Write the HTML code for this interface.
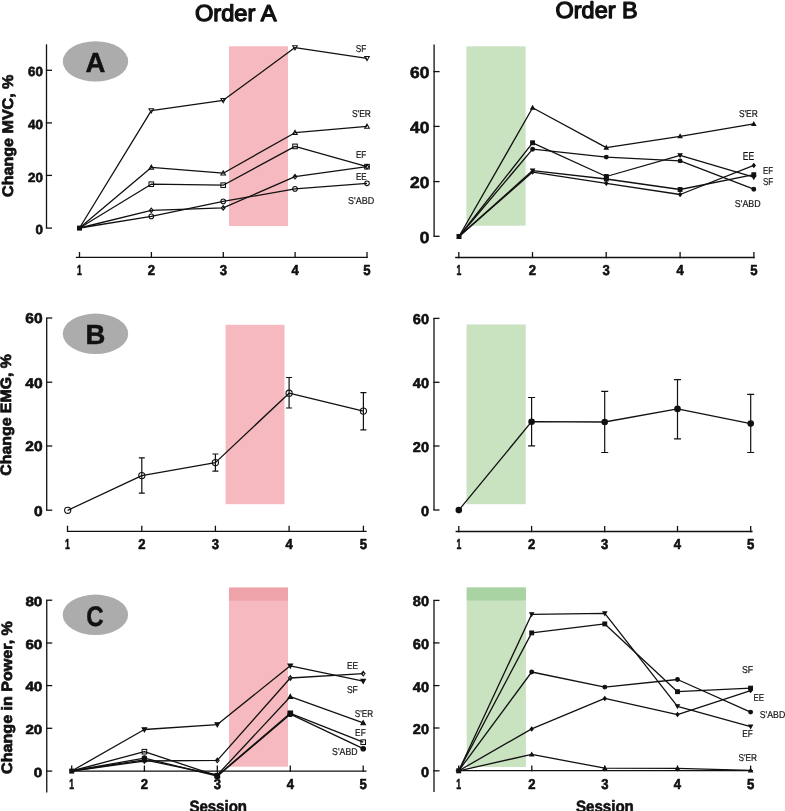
<!DOCTYPE html><html><head><meta charset="utf-8"><style>html,body{margin:0;padding:0;background:#fff;}svg{display:block;}</style></head><body>
<svg width="785" height="811" viewBox="0 0 785 811" text-rendering="geometricPrecision" font-family="'Liberation Sans', Arial, sans-serif" fill="#111">
<rect width="785" height="811" fill="#fff"/>
<text x="235.7" y="21" font-size="23" font-weight="normal" text-anchor="middle" textLength="81.5" lengthAdjust="spacingAndGlyphs" stroke="#111" stroke-width="1.3" stroke-linejoin="round">Order A</text>
<text x="596.6" y="17.6" font-size="23" font-weight="normal" text-anchor="middle" textLength="82" lengthAdjust="spacingAndGlyphs" stroke="#111" stroke-width="1.3" stroke-linejoin="round">Order B</text>
<rect x="229" y="46.3" width="59" height="179.7" fill="#f5b9bf"/>
<line x1="46.5" y1="44.3" x2="46.5" y2="228.1" stroke="#111" stroke-width="1.3"/>
<line x1="45.85" y1="70.3" x2="52.0" y2="70.3" stroke="#111" stroke-width="1.3"/>
<text x="42.9" y="76.4" font-size="13.2" font-weight="bold" text-anchor="end" textLength="14.9" lengthAdjust="spacingAndGlyphs" stroke="#111" stroke-width="0.6" stroke-linejoin="round">60</text>
<line x1="45.85" y1="122.9" x2="52.0" y2="122.9" stroke="#111" stroke-width="1.3"/>
<text x="42.9" y="129.0" font-size="13.2" font-weight="bold" text-anchor="end" textLength="14.9" lengthAdjust="spacingAndGlyphs" stroke="#111" stroke-width="0.6" stroke-linejoin="round">40</text>
<line x1="45.85" y1="175.4" x2="52.0" y2="175.4" stroke="#111" stroke-width="1.3"/>
<text x="42.9" y="181.5" font-size="13.2" font-weight="bold" text-anchor="end" textLength="14.9" lengthAdjust="spacingAndGlyphs" stroke="#111" stroke-width="0.6" stroke-linejoin="round">20</text>
<line x1="45.85" y1="228.1" x2="52.0" y2="228.1" stroke="#111" stroke-width="1.3"/>
<text x="42.9" y="234.2" font-size="13.2" font-weight="bold" text-anchor="end" textLength="7.45" lengthAdjust="spacingAndGlyphs" stroke="#111" stroke-width="0.6" stroke-linejoin="round">0</text>
<line x1="75.9" y1="257.4" x2="367.6" y2="257.4" stroke="#111" stroke-width="1.3"/>
<line x1="79.5" y1="251.99999999999997" x2="79.5" y2="258.04999999999995" stroke="#111" stroke-width="1.3"/>
<line x1="151.4" y1="251.99999999999997" x2="151.4" y2="258.04999999999995" stroke="#111" stroke-width="1.3"/>
<line x1="223.3" y1="251.99999999999997" x2="223.3" y2="258.04999999999995" stroke="#111" stroke-width="1.3"/>
<line x1="295.1" y1="251.99999999999997" x2="295.1" y2="258.04999999999995" stroke="#111" stroke-width="1.3"/>
<line x1="367.0" y1="251.99999999999997" x2="367.0" y2="258.04999999999995" stroke="#111" stroke-width="1.3"/>
<text x="79.5" y="275" font-size="14.4" font-weight="bold" text-anchor="middle" textLength="4.8" lengthAdjust="spacingAndGlyphs" stroke="#111" stroke-width="0.6" stroke-linejoin="round">1</text>
<text x="151.4" y="275" font-size="14.4" font-weight="bold" text-anchor="middle" textLength="7.3" lengthAdjust="spacingAndGlyphs" stroke="#111" stroke-width="0.6" stroke-linejoin="round">2</text>
<text x="223.3" y="275" font-size="14.4" font-weight="bold" text-anchor="middle" textLength="7.3" lengthAdjust="spacingAndGlyphs" stroke="#111" stroke-width="0.6" stroke-linejoin="round">3</text>
<text x="295.1" y="275" font-size="14.4" font-weight="bold" text-anchor="middle" textLength="7.3" lengthAdjust="spacingAndGlyphs" stroke="#111" stroke-width="0.6" stroke-linejoin="round">4</text>
<text x="367.0" y="275" font-size="14.4" font-weight="bold" text-anchor="middle" textLength="7.3" lengthAdjust="spacingAndGlyphs" stroke="#111" stroke-width="0.6" stroke-linejoin="round">5</text>
<ellipse cx="95.5" cy="61.4" rx="32.7" ry="20.2" fill="#acacac"/>
<text x="95.5" y="72" font-size="27.5" font-weight="bold" text-anchor="middle" stroke="#111" stroke-width="0.5" stroke-linejoin="round">A</text>
<text x="0" y="0" font-size="15.3" font-weight="bold" text-anchor="middle" textLength="122.3" lengthAdjust="spacingAndGlyphs" stroke="#111" stroke-width="0.7" stroke-linejoin="round" transform="translate(13.1,135.75) rotate(-90)">Change MVC, %</text>
<polyline points="79.50,228.00 151.30,110.60 223.20,100.30 295.00,47.60 367.00,58.40" fill="none" stroke="#111" stroke-width="1.3" stroke-linejoin="round"/>
<polyline points="79.50,228.00 151.30,167.40 223.20,173.20 295.00,132.70 367.00,126.40" fill="none" stroke="#111" stroke-width="1.3" stroke-linejoin="round"/>
<polyline points="79.50,228.00 151.30,184.20 223.20,185.20 295.00,146.40 367.00,166.70" fill="none" stroke="#111" stroke-width="1.3" stroke-linejoin="round"/>
<polyline points="79.50,228.00 151.30,210.30 223.20,207.90 295.00,176.70 367.00,166.70" fill="none" stroke="#111" stroke-width="1.3" stroke-linejoin="round"/>
<polyline points="79.50,228.00 151.30,216.40 223.20,201.40 295.00,188.90 367.00,183.30" fill="none" stroke="#111" stroke-width="1.3" stroke-linejoin="round"/>
<path d="M149.00,108.76L153.60,108.76L151.30,112.90Z" fill="none" stroke="#111" stroke-width="1.05"/>
<path d="M220.90,98.46L225.50,98.46L223.20,102.60Z" fill="none" stroke="#111" stroke-width="1.05"/>
<path d="M292.70,45.76L297.30,45.76L295.00,49.90Z" fill="none" stroke="#111" stroke-width="1.05"/>
<path d="M364.70,56.56L369.30,56.56L367.00,60.70Z" fill="none" stroke="#111" stroke-width="1.05"/>
<path d="M149.00,169.24L153.60,169.24L151.30,165.10Z" fill="none" stroke="#111" stroke-width="1.05"/>
<path d="M220.90,175.04L225.50,175.04L223.20,170.90Z" fill="none" stroke="#111" stroke-width="1.05"/>
<path d="M292.70,134.54L297.30,134.54L295.00,130.40Z" fill="none" stroke="#111" stroke-width="1.05"/>
<path d="M364.70,128.24L369.30,128.24L367.00,124.10Z" fill="none" stroke="#111" stroke-width="1.05"/>
<rect x="149.00" y="181.90" width="4.60" height="4.60" fill="none" stroke="#111" stroke-width="1.05"/>
<rect x="220.90" y="182.90" width="4.60" height="4.60" fill="none" stroke="#111" stroke-width="1.05"/>
<rect x="292.70" y="144.10" width="4.60" height="4.60" fill="none" stroke="#111" stroke-width="1.05"/>
<rect x="364.70" y="164.40" width="4.60" height="4.60" fill="none" stroke="#111" stroke-width="1.05"/>
<path d="M151.30,208.00L153.14,210.30L151.30,212.60L149.46,210.30Z" fill="none" stroke="#111" stroke-width="1.05"/>
<path d="M223.20,205.60L225.04,207.90L223.20,210.20L221.36,207.90Z" fill="none" stroke="#111" stroke-width="1.05"/>
<path d="M295.00,174.40L296.84,176.70L295.00,179.00L293.16,176.70Z" fill="none" stroke="#111" stroke-width="1.05"/>
<path d="M367.00,164.40L368.84,166.70L367.00,169.00L365.16,166.70Z" fill="none" stroke="#111" stroke-width="1.05"/>
<circle cx="151.30" cy="216.40" r="2.30" fill="none" stroke="#111" stroke-width="1.05"/>
<circle cx="223.20" cy="201.40" r="2.30" fill="none" stroke="#111" stroke-width="1.05"/>
<circle cx="295.00" cy="188.90" r="2.30" fill="none" stroke="#111" stroke-width="1.05"/>
<circle cx="367.00" cy="183.30" r="2.30" fill="none" stroke="#111" stroke-width="1.05"/>
<rect x="77" y="225.6" width="5" height="5" fill="#111"/>
<text x="361.1" y="52.2" font-size="10.0" font-weight="normal" text-anchor="middle" textLength="10.6" lengthAdjust="spacingAndGlyphs" stroke="#111" stroke-width="0.2">SF</text>
<text x="361.4" y="116.9" font-size="10.0" font-weight="normal" text-anchor="middle" textLength="19.0" lengthAdjust="spacingAndGlyphs" stroke="#111" stroke-width="0.2">S'ER</text>
<text x="361.05" y="158.0" font-size="10.0" font-weight="normal" text-anchor="middle" textLength="10.3" lengthAdjust="spacingAndGlyphs" stroke="#111" stroke-width="0.2">EF</text>
<text x="361.25" y="179.7" font-size="10.0" font-weight="normal" text-anchor="middle" textLength="10.7" lengthAdjust="spacingAndGlyphs" stroke="#111" stroke-width="0.2">EE</text>
<text x="361.15" y="203.9" font-size="10.0" font-weight="normal" text-anchor="middle" textLength="26.1" lengthAdjust="spacingAndGlyphs" stroke="#111" stroke-width="0.2">S'ABD</text>
<rect x="466.4" y="46.3" width="59.2" height="179.4" fill="#c9e2c0"/>
<line x1="434.1" y1="44.5" x2="434.1" y2="236.4" stroke="#111" stroke-width="1.3"/>
<line x1="433.45000000000005" y1="71.6" x2="439.6" y2="71.6" stroke="#111" stroke-width="1.3"/>
<text x="429.3" y="77.8" font-size="16.2" font-weight="bold" text-anchor="end" textLength="19.3" lengthAdjust="spacingAndGlyphs" stroke="#111" stroke-width="0.6" stroke-linejoin="round">60</text>
<line x1="433.45000000000005" y1="126.4" x2="439.6" y2="126.4" stroke="#111" stroke-width="1.3"/>
<text x="429.3" y="132.6" font-size="16.2" font-weight="bold" text-anchor="end" textLength="19.3" lengthAdjust="spacingAndGlyphs" stroke="#111" stroke-width="0.6" stroke-linejoin="round">40</text>
<line x1="433.45000000000005" y1="181.6" x2="439.6" y2="181.6" stroke="#111" stroke-width="1.3"/>
<text x="429.3" y="187.8" font-size="16.2" font-weight="bold" text-anchor="end" textLength="19.3" lengthAdjust="spacingAndGlyphs" stroke="#111" stroke-width="0.6" stroke-linejoin="round">20</text>
<line x1="433.45000000000005" y1="236.3" x2="439.6" y2="236.3" stroke="#111" stroke-width="1.3"/>
<text x="429.3" y="242.5" font-size="16.2" font-weight="bold" text-anchor="end" textLength="9.65" lengthAdjust="spacingAndGlyphs" stroke="#111" stroke-width="0.6" stroke-linejoin="round">0</text>
<line x1="455.2" y1="257.5" x2="754.6" y2="257.5" stroke="#111" stroke-width="1.3"/>
<line x1="458.8" y1="252.1" x2="458.8" y2="258.15" stroke="#111" stroke-width="1.3"/>
<line x1="532.5" y1="252.1" x2="532.5" y2="258.15" stroke="#111" stroke-width="1.3"/>
<line x1="606.2" y1="252.1" x2="606.2" y2="258.15" stroke="#111" stroke-width="1.3"/>
<line x1="680.1" y1="252.1" x2="680.1" y2="258.15" stroke="#111" stroke-width="1.3"/>
<line x1="753.9" y1="252.1" x2="753.9" y2="258.15" stroke="#111" stroke-width="1.3"/>
<text x="458.8" y="275.2" font-size="14.4" font-weight="bold" text-anchor="middle" textLength="4.8" lengthAdjust="spacingAndGlyphs" stroke="#111" stroke-width="0.6" stroke-linejoin="round">1</text>
<text x="532.5" y="275.2" font-size="14.4" font-weight="bold" text-anchor="middle" textLength="7.3" lengthAdjust="spacingAndGlyphs" stroke="#111" stroke-width="0.6" stroke-linejoin="round">2</text>
<text x="606.2" y="275.2" font-size="14.4" font-weight="bold" text-anchor="middle" textLength="7.3" lengthAdjust="spacingAndGlyphs" stroke="#111" stroke-width="0.6" stroke-linejoin="round">3</text>
<text x="680.1" y="275.2" font-size="14.4" font-weight="bold" text-anchor="middle" textLength="7.3" lengthAdjust="spacingAndGlyphs" stroke="#111" stroke-width="0.6" stroke-linejoin="round">4</text>
<text x="753.9" y="275.2" font-size="14.4" font-weight="bold" text-anchor="middle" textLength="7.3" lengthAdjust="spacingAndGlyphs" stroke="#111" stroke-width="0.6" stroke-linejoin="round">5</text>
<polyline points="459.00,236.50 532.60,107.80 606.30,147.60 680.10,136.30 753.80,123.90" fill="none" stroke="#111" stroke-width="1.3" stroke-linejoin="round"/>
<polyline points="459.00,236.50 532.60,149.20 606.30,157.10 680.10,160.90 753.80,189.20" fill="none" stroke="#111" stroke-width="1.3" stroke-linejoin="round"/>
<polyline points="459.00,236.50 532.60,142.80 606.30,176.50 680.10,155.30 753.80,177.20" fill="none" stroke="#111" stroke-width="1.3" stroke-linejoin="round"/>
<polyline points="459.00,236.50 532.60,170.60 606.30,179.00 680.10,189.50 753.80,174.70" fill="none" stroke="#111" stroke-width="1.3" stroke-linejoin="round"/>
<polyline points="459.00,236.50 532.60,172.10 606.30,183.30 680.10,194.50 753.80,165.40" fill="none" stroke="#111" stroke-width="1.3" stroke-linejoin="round"/>
<path d="M530.70,109.32L534.50,109.32L532.60,105.90Z" fill="#111" stroke="#111" stroke-width="1.05"/>
<path d="M604.40,149.12L608.20,149.12L606.30,145.70Z" fill="#111" stroke="#111" stroke-width="1.05"/>
<path d="M678.20,137.82L682.00,137.82L680.10,134.40Z" fill="#111" stroke="#111" stroke-width="1.05"/>
<path d="M751.90,125.42L755.70,125.42L753.80,122.00Z" fill="#111" stroke="#111" stroke-width="1.05"/>
<circle cx="532.60" cy="149.20" r="1.90" fill="#111" stroke="#111" stroke-width="1.05"/>
<circle cx="606.30" cy="157.10" r="1.90" fill="#111" stroke="#111" stroke-width="1.05"/>
<circle cx="680.10" cy="160.90" r="1.90" fill="#111" stroke="#111" stroke-width="1.05"/>
<circle cx="753.80" cy="189.20" r="1.90" fill="#111" stroke="#111" stroke-width="1.05"/>
<rect x="530.70" y="140.90" width="3.80" height="3.80" fill="#111" stroke="#111" stroke-width="1.05"/>
<rect x="604.40" y="174.60" width="3.80" height="3.80" fill="#111" stroke="#111" stroke-width="1.05"/>
<path d="M678.20,153.78L682.00,153.78L680.10,157.20Z" fill="#111" stroke="#111" stroke-width="1.05"/>
<path d="M751.90,175.68L755.70,175.68L753.80,179.10Z" fill="#111" stroke="#111" stroke-width="1.05"/>
<path d="M530.70,169.08L534.50,169.08L532.60,172.50Z" fill="#111" stroke="#111" stroke-width="1.05"/>
<rect x="604.40" y="177.10" width="3.80" height="3.80" fill="#111" stroke="#111" stroke-width="1.05"/>
<rect x="678.20" y="187.60" width="3.80" height="3.80" fill="#111" stroke="#111" stroke-width="1.05"/>
<rect x="751.90" y="172.80" width="3.80" height="3.80" fill="#111" stroke="#111" stroke-width="1.05"/>
<path d="M532.60,170.20L534.12,172.10L532.60,174.00L531.08,172.10Z" fill="#111" stroke="#111" stroke-width="1.05"/>
<path d="M606.30,181.40L607.82,183.30L606.30,185.20L604.78,183.30Z" fill="#111" stroke="#111" stroke-width="1.05"/>
<path d="M680.10,192.60L681.62,194.50L680.10,196.40L678.58,194.50Z" fill="#111" stroke="#111" stroke-width="1.05"/>
<path d="M753.80,163.50L755.32,165.40L753.80,167.30L752.28,165.40Z" fill="#111" stroke="#111" stroke-width="1.05"/>
<rect x="456.5" y="234" width="5" height="5" fill="#111"/>
<text x="748.35" y="116.5" font-size="10.0" font-weight="normal" text-anchor="middle" textLength="18.9" lengthAdjust="spacingAndGlyphs" stroke="#111" stroke-width="0.2">S'ER</text>
<text x="748.4" y="159.6" font-size="11.6" font-weight="normal" text-anchor="middle" textLength="11.4" lengthAdjust="spacingAndGlyphs" stroke="#111" stroke-width="0.2">EE</text>
<text x="768.0" y="173.5" font-size="10.0" font-weight="normal" text-anchor="middle" textLength="10.0" lengthAdjust="spacingAndGlyphs" stroke="#111" stroke-width="0.2">EF</text>
<text x="767.95" y="184.9" font-size="10.0" font-weight="normal" text-anchor="middle" textLength="10.1" lengthAdjust="spacingAndGlyphs" stroke="#111" stroke-width="0.2">SF</text>
<text x="747.7" y="206.5" font-size="10.0" font-weight="normal" text-anchor="middle" textLength="25.8" lengthAdjust="spacingAndGlyphs" stroke="#111" stroke-width="0.2">S'ABD</text>
<rect x="225.6" y="324.8" width="58.9" height="179.4" fill="#f5b9bf"/>
<line x1="46.7" y1="318.0" x2="46.7" y2="510.3" stroke="#111" stroke-width="1.3"/>
<line x1="46.050000000000004" y1="318.0" x2="52.2" y2="318.0" stroke="#111" stroke-width="1.3"/>
<text x="42.6" y="323.3" font-size="14.1" font-weight="bold" text-anchor="end" textLength="17.3" lengthAdjust="spacingAndGlyphs" stroke="#111" stroke-width="0.6" stroke-linejoin="round">60</text>
<line x1="46.050000000000004" y1="382.2" x2="52.2" y2="382.2" stroke="#111" stroke-width="1.3"/>
<text x="42.6" y="387.5" font-size="14.1" font-weight="bold" text-anchor="end" textLength="17.3" lengthAdjust="spacingAndGlyphs" stroke="#111" stroke-width="0.6" stroke-linejoin="round">40</text>
<line x1="46.050000000000004" y1="446.0" x2="52.2" y2="446.0" stroke="#111" stroke-width="1.3"/>
<text x="42.6" y="451.3" font-size="14.1" font-weight="bold" text-anchor="end" textLength="17.3" lengthAdjust="spacingAndGlyphs" stroke="#111" stroke-width="0.6" stroke-linejoin="round">20</text>
<line x1="46.050000000000004" y1="510.2" x2="52.2" y2="510.2" stroke="#111" stroke-width="1.3"/>
<text x="42.6" y="515.5" font-size="14.1" font-weight="bold" text-anchor="end" textLength="8.65" lengthAdjust="spacingAndGlyphs" stroke="#111" stroke-width="0.6" stroke-linejoin="round">0</text>
<line x1="67.0" y1="531.3" x2="366.6" y2="531.3" stroke="#111" stroke-width="1.3"/>
<line x1="67.5" y1="525.6999999999999" x2="67.5" y2="531.9499999999999" stroke="#111" stroke-width="1.3"/>
<line x1="141.8" y1="525.6999999999999" x2="141.8" y2="531.9499999999999" stroke="#111" stroke-width="1.3"/>
<line x1="215.4" y1="525.6999999999999" x2="215.4" y2="531.9499999999999" stroke="#111" stroke-width="1.3"/>
<line x1="289.1" y1="525.6999999999999" x2="289.1" y2="531.9499999999999" stroke="#111" stroke-width="1.3"/>
<line x1="363.4" y1="525.6999999999999" x2="363.4" y2="531.9499999999999" stroke="#111" stroke-width="1.3"/>
<text x="67.5" y="548.8" font-size="14.4" font-weight="bold" text-anchor="middle" textLength="4.8" lengthAdjust="spacingAndGlyphs" stroke="#111" stroke-width="0.6" stroke-linejoin="round">1</text>
<text x="141.8" y="548.8" font-size="14.4" font-weight="bold" text-anchor="middle" textLength="7.3" lengthAdjust="spacingAndGlyphs" stroke="#111" stroke-width="0.6" stroke-linejoin="round">2</text>
<text x="215.4" y="548.8" font-size="14.4" font-weight="bold" text-anchor="middle" textLength="7.3" lengthAdjust="spacingAndGlyphs" stroke="#111" stroke-width="0.6" stroke-linejoin="round">3</text>
<text x="289.1" y="548.8" font-size="14.4" font-weight="bold" text-anchor="middle" textLength="7.3" lengthAdjust="spacingAndGlyphs" stroke="#111" stroke-width="0.6" stroke-linejoin="round">4</text>
<text x="363.4" y="548.8" font-size="14.4" font-weight="bold" text-anchor="middle" textLength="7.3" lengthAdjust="spacingAndGlyphs" stroke="#111" stroke-width="0.6" stroke-linejoin="round">5</text>
<ellipse cx="95.5" cy="333.8" rx="32.7" ry="20.2" fill="#acacac"/>
<text x="95.5" y="344.4" font-size="27.5" font-weight="bold" text-anchor="middle" stroke="#111" stroke-width="0.5" stroke-linejoin="round">B</text>
<text x="0" y="0" font-size="15" font-weight="bold" text-anchor="middle" textLength="121.6" lengthAdjust="spacingAndGlyphs" stroke="#111" stroke-width="0.7" stroke-linejoin="round" transform="translate(11.4,414.9) rotate(-90)">Change EMG, %</text>
<polyline points="67.70,510.30 141.80,475.60 215.40,462.60 289.10,393.20 363.40,411.10" fill="none" stroke="#111" stroke-width="1.3" stroke-linejoin="round"/>
<path d="M141.8,457.8V493.1M138.8,457.8H144.8M138.8,493.1H144.8" stroke="#111" stroke-width="1.2" fill="none"/>
<path d="M215.4,454.0V471.2M212.4,454.0H218.4M212.4,471.2H218.4" stroke="#111" stroke-width="1.2" fill="none"/>
<path d="M289.1,377.5V408.0M286.1,377.5H292.1M286.1,408.0H292.1" stroke="#111" stroke-width="1.2" fill="none"/>
<path d="M363.4,392.6V429.9M360.4,392.6H366.4M360.4,429.9H366.4" stroke="#111" stroke-width="1.2" fill="none"/>
<circle cx="67.7" cy="510.3" r="3.1" fill="none" stroke="#111" stroke-width="1.1"/>
<circle cx="141.8" cy="475.6" r="3.1" fill="none" stroke="#111" stroke-width="1.1"/>
<circle cx="215.4" cy="462.6" r="3.1" fill="none" stroke="#111" stroke-width="1.1"/>
<circle cx="289.1" cy="393.2" r="3.1" fill="none" stroke="#111" stroke-width="1.1"/>
<circle cx="363.4" cy="411.1" r="3.1" fill="none" stroke="#111" stroke-width="1.1"/>
<rect x="466.5" y="324.5" width="59.2" height="179.7" fill="#c9e2c0"/>
<line x1="434.0" y1="318.4" x2="434.0" y2="510.1" stroke="#111" stroke-width="1.3"/>
<line x1="433.35" y1="318.4" x2="439.5" y2="318.4" stroke="#111" stroke-width="1.3"/>
<text x="429.0" y="324.4" font-size="14.2" font-weight="bold" text-anchor="end" textLength="16.2" lengthAdjust="spacingAndGlyphs" stroke="#111" stroke-width="0.6" stroke-linejoin="round">60</text>
<line x1="433.35" y1="382.3" x2="439.5" y2="382.3" stroke="#111" stroke-width="1.3"/>
<text x="429.0" y="388.3" font-size="14.2" font-weight="bold" text-anchor="end" textLength="16.2" lengthAdjust="spacingAndGlyphs" stroke="#111" stroke-width="0.6" stroke-linejoin="round">40</text>
<line x1="433.35" y1="446.0" x2="439.5" y2="446.0" stroke="#111" stroke-width="1.3"/>
<text x="429.0" y="452.0" font-size="14.2" font-weight="bold" text-anchor="end" textLength="16.2" lengthAdjust="spacingAndGlyphs" stroke="#111" stroke-width="0.6" stroke-linejoin="round">20</text>
<line x1="433.35" y1="510.0" x2="439.5" y2="510.0" stroke="#111" stroke-width="1.3"/>
<text x="429.0" y="516.0" font-size="14.2" font-weight="bold" text-anchor="end" textLength="8.1" lengthAdjust="spacingAndGlyphs" stroke="#111" stroke-width="0.6" stroke-linejoin="round">0</text>
<line x1="455.6" y1="531.5" x2="752.6" y2="531.5" stroke="#111" stroke-width="1.3"/>
<line x1="458.8" y1="525.9" x2="458.8" y2="532.15" stroke="#111" stroke-width="1.3"/>
<line x1="531.6" y1="525.9" x2="531.6" y2="532.15" stroke="#111" stroke-width="1.3"/>
<line x1="604.7" y1="525.9" x2="604.7" y2="532.15" stroke="#111" stroke-width="1.3"/>
<line x1="677.5" y1="525.9" x2="677.5" y2="532.15" stroke="#111" stroke-width="1.3"/>
<line x1="750.7" y1="525.9" x2="750.7" y2="532.15" stroke="#111" stroke-width="1.3"/>
<text x="458.8" y="548.8" font-size="14.4" font-weight="bold" text-anchor="middle" textLength="4.8" lengthAdjust="spacingAndGlyphs" stroke="#111" stroke-width="0.6" stroke-linejoin="round">1</text>
<text x="531.6" y="548.8" font-size="14.4" font-weight="bold" text-anchor="middle" textLength="7.3" lengthAdjust="spacingAndGlyphs" stroke="#111" stroke-width="0.6" stroke-linejoin="round">2</text>
<text x="604.7" y="548.8" font-size="14.4" font-weight="bold" text-anchor="middle" textLength="7.3" lengthAdjust="spacingAndGlyphs" stroke="#111" stroke-width="0.6" stroke-linejoin="round">3</text>
<text x="677.5" y="548.8" font-size="14.4" font-weight="bold" text-anchor="middle" textLength="7.3" lengthAdjust="spacingAndGlyphs" stroke="#111" stroke-width="0.6" stroke-linejoin="round">4</text>
<text x="750.7" y="548.8" font-size="14.4" font-weight="bold" text-anchor="middle" textLength="7.3" lengthAdjust="spacingAndGlyphs" stroke="#111" stroke-width="0.6" stroke-linejoin="round">5</text>
<polyline points="458.80,510.10 531.60,421.70 604.70,422.00 677.50,408.90 750.70,423.60" fill="none" stroke="#111" stroke-width="1.3" stroke-linejoin="round"/>
<path d="M531.6,397.5V445.9M528.1,397.5H535.1M528.1,445.9H535.1" stroke="#111" stroke-width="1.2" fill="none"/>
<path d="M604.7,391.4V452.5M601.2,391.4H608.2M601.2,452.5H608.2" stroke="#111" stroke-width="1.2" fill="none"/>
<path d="M677.5,379.7V438.9M674.0,379.7H681.0M674.0,438.9H681.0" stroke="#111" stroke-width="1.2" fill="none"/>
<path d="M750.7,394.4V452.5M747.2,394.4H754.2M747.2,452.5H754.2" stroke="#111" stroke-width="1.2" fill="none"/>
<circle cx="458.8" cy="510.1" r="3.3" fill="#111"/>
<circle cx="531.6" cy="421.7" r="3.3" fill="#111"/>
<circle cx="604.7" cy="422.0" r="3.3" fill="#111"/>
<circle cx="677.5" cy="408.9" r="3.3" fill="#111"/>
<circle cx="750.7" cy="423.6" r="3.3" fill="#111"/>
<rect x="229" y="587.6" width="59" height="179.1" fill="#f5b9bf"/>
<rect x="229" y="587.6" width="59" height="13.1" fill="#eea2aa"/>
<line x1="46.75" y1="600.2" x2="46.75" y2="792.5" stroke="#111" stroke-width="1.3"/>
<line x1="46.1" y1="600.2" x2="52.25" y2="600.2" stroke="#111" stroke-width="1.3"/>
<text x="42.3" y="605.8" font-size="13.3" font-weight="bold" text-anchor="end" textLength="16.9" lengthAdjust="spacingAndGlyphs" stroke="#111" stroke-width="0.6" stroke-linejoin="round">80</text>
<line x1="46.1" y1="643.0" x2="52.25" y2="643.0" stroke="#111" stroke-width="1.3"/>
<text x="42.3" y="648.6" font-size="13.3" font-weight="bold" text-anchor="end" textLength="16.9" lengthAdjust="spacingAndGlyphs" stroke="#111" stroke-width="0.6" stroke-linejoin="round">60</text>
<line x1="46.1" y1="685.6" x2="52.25" y2="685.6" stroke="#111" stroke-width="1.3"/>
<text x="42.3" y="691.2" font-size="13.3" font-weight="bold" text-anchor="end" textLength="16.9" lengthAdjust="spacingAndGlyphs" stroke="#111" stroke-width="0.6" stroke-linejoin="round">40</text>
<line x1="46.1" y1="728.3" x2="52.25" y2="728.3" stroke="#111" stroke-width="1.3"/>
<text x="42.3" y="733.9" font-size="13.3" font-weight="bold" text-anchor="end" textLength="16.9" lengthAdjust="spacingAndGlyphs" stroke="#111" stroke-width="0.6" stroke-linejoin="round">20</text>
<line x1="46.1" y1="771.1" x2="52.25" y2="771.1" stroke="#111" stroke-width="1.3"/>
<text x="42.3" y="776.7" font-size="13.3" font-weight="bold" text-anchor="end" textLength="8.45" lengthAdjust="spacingAndGlyphs" stroke="#111" stroke-width="0.6" stroke-linejoin="round">0</text>
<line x1="70.5" y1="771.1" x2="366.5" y2="771.1" stroke="#111" stroke-width="1.3"/>
<line x1="71.7" y1="765.5" x2="71.7" y2="771.75" stroke="#111" stroke-width="1.3"/>
<line x1="144.4" y1="765.5" x2="144.4" y2="771.75" stroke="#111" stroke-width="1.3"/>
<line x1="217.3" y1="765.5" x2="217.3" y2="771.75" stroke="#111" stroke-width="1.3"/>
<line x1="290.3" y1="765.5" x2="290.3" y2="771.75" stroke="#111" stroke-width="1.3"/>
<line x1="363.2" y1="765.5" x2="363.2" y2="771.75" stroke="#111" stroke-width="1.3"/>
<text x="71.7" y="789.1" font-size="14.4" font-weight="bold" text-anchor="middle" textLength="4.8" lengthAdjust="spacingAndGlyphs" stroke="#111" stroke-width="0.6" stroke-linejoin="round">1</text>
<text x="144.4" y="789.1" font-size="14.4" font-weight="bold" text-anchor="middle" textLength="7.3" lengthAdjust="spacingAndGlyphs" stroke="#111" stroke-width="0.6" stroke-linejoin="round">2</text>
<text x="217.3" y="789.1" font-size="14.4" font-weight="bold" text-anchor="middle" textLength="7.3" lengthAdjust="spacingAndGlyphs" stroke="#111" stroke-width="0.6" stroke-linejoin="round">3</text>
<text x="290.3" y="789.1" font-size="14.4" font-weight="bold" text-anchor="middle" textLength="7.3" lengthAdjust="spacingAndGlyphs" stroke="#111" stroke-width="0.6" stroke-linejoin="round">4</text>
<text x="363.2" y="789.1" font-size="14.4" font-weight="bold" text-anchor="middle" textLength="7.3" lengthAdjust="spacingAndGlyphs" stroke="#111" stroke-width="0.6" stroke-linejoin="round">5</text>
<ellipse cx="95.4" cy="614.8" rx="32.7" ry="20.2" fill="#acacac"/>
<text x="95.0" y="626" font-size="28.2" font-weight="bold" text-anchor="middle" textLength="17.4" lengthAdjust="spacingAndGlyphs" stroke="#111" stroke-width="0.5" stroke-linejoin="round">C</text>
<text x="0" y="0" font-size="15" font-weight="bold" text-anchor="middle" textLength="152.8" lengthAdjust="spacingAndGlyphs" stroke="#111" stroke-width="0.7" stroke-linejoin="round" transform="translate(11.6,697.5) rotate(-90)">Change in Power, %</text>
<text x="218.2" y="811.6" font-size="16.4" font-weight="bold" text-anchor="middle" textLength="57.6" lengthAdjust="spacingAndGlyphs" stroke="#111" stroke-width="0.6" stroke-linejoin="round">Session</text>
<polyline points="71.70,771.00 144.40,729.50 217.30,724.60 290.30,665.80 363.20,681.20" fill="none" stroke="#111" stroke-width="1.3" stroke-linejoin="round"/>
<polyline points="71.70,771.00 144.40,761.00 217.30,760.40 290.30,678.00 363.20,673.60" fill="none" stroke="#111" stroke-width="1.3" stroke-linejoin="round"/>
<polyline points="71.70,771.00 144.40,759.80 217.30,775.00 290.30,696.70 363.20,722.90" fill="none" stroke="#111" stroke-width="1.3" stroke-linejoin="round"/>
<polyline points="71.70,771.00 144.40,751.70 217.30,775.80 290.30,713.30 363.20,742.20" fill="none" stroke="#111" stroke-width="1.3" stroke-linejoin="round"/>
<polyline points="71.70,771.00 144.40,758.10 217.30,776.20 290.30,714.20 363.20,748.70" fill="none" stroke="#111" stroke-width="1.3" stroke-linejoin="round"/>
<path d="M142.10,727.66L146.70,727.66L144.40,731.80Z" fill="#111" stroke="#111" stroke-width="1.05"/>
<path d="M215.00,722.76L219.60,722.76L217.30,726.90Z" fill="#111" stroke="#111" stroke-width="1.05"/>
<path d="M288.00,663.96L292.60,663.96L290.30,668.10Z" fill="#111" stroke="#111" stroke-width="1.05"/>
<path d="M360.90,679.36L365.50,679.36L363.20,683.50Z" fill="#111" stroke="#111" stroke-width="1.05"/>
<path d="M144.40,758.70L146.24,761.00L144.40,763.30L142.56,761.00Z" fill="none" stroke="#111" stroke-width="1.05"/>
<path d="M217.30,758.10L219.14,760.40L217.30,762.70L215.46,760.40Z" fill="none" stroke="#111" stroke-width="1.05"/>
<path d="M290.30,675.70L292.14,678.00L290.30,680.30L288.46,678.00Z" fill="none" stroke="#111" stroke-width="1.05"/>
<path d="M363.20,671.30L365.04,673.60L363.20,675.90L361.36,673.60Z" fill="none" stroke="#111" stroke-width="1.05"/>
<path d="M142.10,761.64L146.70,761.64L144.40,757.50Z" fill="#111" stroke="#111" stroke-width="1.05"/>
<path d="M215.00,776.84L219.60,776.84L217.30,772.70Z" fill="#111" stroke="#111" stroke-width="1.05"/>
<path d="M288.00,698.54L292.60,698.54L290.30,694.40Z" fill="#111" stroke="#111" stroke-width="1.05"/>
<path d="M360.90,724.74L365.50,724.74L363.20,720.60Z" fill="#111" stroke="#111" stroke-width="1.05"/>
<rect x="142.10" y="749.40" width="4.60" height="4.60" fill="none" stroke="#111" stroke-width="1.05"/>
<rect x="215.00" y="773.50" width="4.60" height="4.60" fill="none" stroke="#111" stroke-width="1.05"/>
<rect x="288.00" y="711.00" width="4.60" height="4.60" fill="#111" stroke="#111" stroke-width="1.05"/>
<rect x="360.90" y="739.90" width="4.60" height="4.60" fill="none" stroke="#111" stroke-width="1.05"/>
<circle cx="144.40" cy="758.10" r="2.30" fill="#111" stroke="#111" stroke-width="1.05"/>
<circle cx="217.30" cy="776.20" r="2.30" fill="#111" stroke="#111" stroke-width="1.05"/>
<circle cx="290.30" cy="714.20" r="2.30" fill="#111" stroke="#111" stroke-width="1.05"/>
<circle cx="363.20" cy="748.70" r="2.30" fill="#111" stroke="#111" stroke-width="1.05"/>
<rect x="69.2" y="768.6" width="5" height="5" fill="#111"/>
<text x="352.45" y="668.9" font-size="10.0" font-weight="normal" text-anchor="middle" textLength="11.1" lengthAdjust="spacingAndGlyphs" stroke="#111" stroke-width="0.2">EE</text>
<text x="352.35" y="693.0" font-size="10.0" font-weight="normal" text-anchor="middle" textLength="10.9" lengthAdjust="spacingAndGlyphs" stroke="#111" stroke-width="0.2">SF</text>
<text x="363.95" y="717.1" font-size="10.0" font-weight="normal" text-anchor="middle" textLength="18.3" lengthAdjust="spacingAndGlyphs" stroke="#111" stroke-width="0.2">S'ER</text>
<text x="360.4" y="735.9" font-size="10.0" font-weight="normal" text-anchor="middle" textLength="10.6" lengthAdjust="spacingAndGlyphs" stroke="#111" stroke-width="0.2">EF</text>
<text x="344.8" y="754.9" font-size="10.0" font-weight="normal" text-anchor="middle" textLength="25.4" lengthAdjust="spacingAndGlyphs" stroke="#111" stroke-width="0.2">S'ABD</text>
<rect x="466.7" y="587.5" width="59.2" height="179.5" fill="#c9e2c0"/>
<rect x="466.7" y="587.5" width="59.2" height="13.0" fill="#a9d3a3"/>
<line x1="434.0" y1="600.4" x2="434.0" y2="792.0" stroke="#111" stroke-width="1.3"/>
<line x1="433.35" y1="600.4" x2="439.5" y2="600.4" stroke="#111" stroke-width="1.3"/>
<text x="429.0" y="606.4" font-size="14.2" font-weight="bold" text-anchor="end" textLength="16.2" lengthAdjust="spacingAndGlyphs" stroke="#111" stroke-width="0.6" stroke-linejoin="round">80</text>
<line x1="433.35" y1="642.9" x2="439.5" y2="642.9" stroke="#111" stroke-width="1.3"/>
<text x="429.0" y="648.9" font-size="14.2" font-weight="bold" text-anchor="end" textLength="16.2" lengthAdjust="spacingAndGlyphs" stroke="#111" stroke-width="0.6" stroke-linejoin="round">60</text>
<line x1="433.35" y1="685.6" x2="439.5" y2="685.6" stroke="#111" stroke-width="1.3"/>
<text x="429.0" y="691.6" font-size="14.2" font-weight="bold" text-anchor="end" textLength="16.2" lengthAdjust="spacingAndGlyphs" stroke="#111" stroke-width="0.6" stroke-linejoin="round">40</text>
<line x1="433.35" y1="728.0" x2="439.5" y2="728.0" stroke="#111" stroke-width="1.3"/>
<text x="429.0" y="734.0" font-size="14.2" font-weight="bold" text-anchor="end" textLength="16.2" lengthAdjust="spacingAndGlyphs" stroke="#111" stroke-width="0.6" stroke-linejoin="round">20</text>
<line x1="433.35" y1="770.8" x2="439.5" y2="770.8" stroke="#111" stroke-width="1.3"/>
<text x="429.0" y="776.8" font-size="14.2" font-weight="bold" text-anchor="end" textLength="8.1" lengthAdjust="spacingAndGlyphs" stroke="#111" stroke-width="0.6" stroke-linejoin="round">0</text>
<line x1="455.8" y1="770.7" x2="753.0" y2="770.7" stroke="#111" stroke-width="1.3"/>
<line x1="458.7" y1="765.5" x2="458.7" y2="771.35" stroke="#111" stroke-width="1.3"/>
<line x1="531.8" y1="765.5" x2="531.8" y2="771.35" stroke="#111" stroke-width="1.3"/>
<line x1="604.8" y1="765.5" x2="604.8" y2="771.35" stroke="#111" stroke-width="1.3"/>
<line x1="677.5" y1="765.5" x2="677.5" y2="771.35" stroke="#111" stroke-width="1.3"/>
<line x1="750.6" y1="765.5" x2="750.6" y2="771.35" stroke="#111" stroke-width="1.3"/>
<text x="458.7" y="789.1" font-size="14.4" font-weight="bold" text-anchor="middle" textLength="4.8" lengthAdjust="spacingAndGlyphs" stroke="#111" stroke-width="0.6" stroke-linejoin="round">1</text>
<text x="531.8" y="789.1" font-size="14.4" font-weight="bold" text-anchor="middle" textLength="7.3" lengthAdjust="spacingAndGlyphs" stroke="#111" stroke-width="0.6" stroke-linejoin="round">2</text>
<text x="604.8" y="789.1" font-size="14.4" font-weight="bold" text-anchor="middle" textLength="7.3" lengthAdjust="spacingAndGlyphs" stroke="#111" stroke-width="0.6" stroke-linejoin="round">3</text>
<text x="677.5" y="789.1" font-size="14.4" font-weight="bold" text-anchor="middle" textLength="7.3" lengthAdjust="spacingAndGlyphs" stroke="#111" stroke-width="0.6" stroke-linejoin="round">4</text>
<text x="750.6" y="789.1" font-size="14.4" font-weight="bold" text-anchor="middle" textLength="7.3" lengthAdjust="spacingAndGlyphs" stroke="#111" stroke-width="0.6" stroke-linejoin="round">5</text>
<text x="604.9" y="811.6" font-size="16.4" font-weight="bold" text-anchor="middle" textLength="57.8" lengthAdjust="spacingAndGlyphs" stroke="#111" stroke-width="0.6" stroke-linejoin="round">Session</text>
<polyline points="458.70,770.80 531.70,614.30 604.80,613.40 677.50,706.30 750.60,726.60" fill="none" stroke="#111" stroke-width="1.3" stroke-linejoin="round"/>
<polyline points="458.70,770.80 531.70,632.90 604.80,623.90 677.50,691.70 750.60,688.10" fill="none" stroke="#111" stroke-width="1.3" stroke-linejoin="round"/>
<polyline points="458.70,770.80 531.70,672.00 604.80,687.10 677.50,679.50 750.60,712.10" fill="none" stroke="#111" stroke-width="1.3" stroke-linejoin="round"/>
<polyline points="458.70,770.80 531.70,728.90 604.80,698.40 677.50,714.60 750.60,690.60" fill="none" stroke="#111" stroke-width="1.3" stroke-linejoin="round"/>
<polyline points="458.70,770.80 531.70,754.40 604.80,768.20 677.50,768.40 750.60,770.40" fill="none" stroke="#111" stroke-width="1.3" stroke-linejoin="round"/>
<path d="M529.80,612.78L533.60,612.78L531.70,616.20Z" fill="#111" stroke="#111" stroke-width="1.05"/>
<path d="M602.90,611.88L606.70,611.88L604.80,615.30Z" fill="#111" stroke="#111" stroke-width="1.05"/>
<path d="M675.60,704.78L679.40,704.78L677.50,708.20Z" fill="#111" stroke="#111" stroke-width="1.05"/>
<path d="M748.70,725.08L752.50,725.08L750.60,728.50Z" fill="#111" stroke="#111" stroke-width="1.05"/>
<rect x="529.80" y="631.00" width="3.80" height="3.80" fill="#111" stroke="#111" stroke-width="1.05"/>
<rect x="602.90" y="622.00" width="3.80" height="3.80" fill="#111" stroke="#111" stroke-width="1.05"/>
<rect x="675.60" y="689.80" width="3.80" height="3.80" fill="#111" stroke="#111" stroke-width="1.05"/>
<rect x="748.70" y="686.20" width="3.80" height="3.80" fill="#111" stroke="#111" stroke-width="1.05"/>
<circle cx="531.70" cy="672.00" r="1.90" fill="#111" stroke="#111" stroke-width="1.05"/>
<circle cx="604.80" cy="687.10" r="1.90" fill="#111" stroke="#111" stroke-width="1.05"/>
<circle cx="677.50" cy="679.50" r="1.90" fill="#111" stroke="#111" stroke-width="1.05"/>
<circle cx="750.60" cy="712.10" r="1.90" fill="#111" stroke="#111" stroke-width="1.05"/>
<path d="M531.70,727.00L533.22,728.90L531.70,730.80L530.18,728.90Z" fill="#111" stroke="#111" stroke-width="1.05"/>
<path d="M604.80,696.50L606.32,698.40L604.80,700.30L603.28,698.40Z" fill="#111" stroke="#111" stroke-width="1.05"/>
<path d="M677.50,712.70L679.02,714.60L677.50,716.50L675.98,714.60Z" fill="#111" stroke="#111" stroke-width="1.05"/>
<path d="M750.60,688.70L752.12,690.60L750.60,692.50L749.08,690.60Z" fill="#111" stroke="#111" stroke-width="1.05"/>
<path d="M529.80,755.92L533.60,755.92L531.70,752.50Z" fill="#111" stroke="#111" stroke-width="1.05"/>
<path d="M602.90,769.72L606.70,769.72L604.80,766.30Z" fill="#111" stroke="#111" stroke-width="1.05"/>
<path d="M675.60,769.92L679.40,769.92L677.50,766.50Z" fill="#111" stroke="#111" stroke-width="1.05"/>
<path d="M748.70,771.92L752.50,771.92L750.60,768.50Z" fill="#111" stroke="#111" stroke-width="1.05"/>
<rect x="456.2" y="768.3" width="5" height="5" fill="#111"/>
<text x="747.45" y="672.8" font-size="10.0" font-weight="normal" text-anchor="middle" textLength="11.1" lengthAdjust="spacingAndGlyphs" stroke="#111" stroke-width="0.2">SF</text>
<text x="758.85" y="701.1" font-size="10.0" font-weight="normal" text-anchor="middle" textLength="10.5" lengthAdjust="spacingAndGlyphs" stroke="#111" stroke-width="0.2">EE</text>
<text x="772.5" y="717.8" font-size="10.0" font-weight="normal" text-anchor="middle" textLength="25.4" lengthAdjust="spacingAndGlyphs" stroke="#111" stroke-width="0.2">S'ABD</text>
<text x="747.55" y="736.9" font-size="10.0" font-weight="normal" text-anchor="middle" textLength="10.5" lengthAdjust="spacingAndGlyphs" stroke="#111" stroke-width="0.2">EF</text>
<text x="747.7" y="761.0" font-size="10.0" font-weight="normal" text-anchor="middle" textLength="18.6" lengthAdjust="spacingAndGlyphs" stroke="#111" stroke-width="0.2">S'ER</text>
</svg></body></html>
